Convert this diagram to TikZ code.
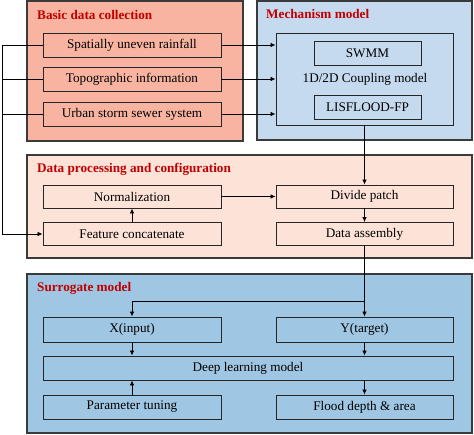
\documentclass[tikz,border=0pt]{standalone}
\usepackage{fontspec}
\setmainfont{Liberation Serif}
\usetikzlibrary{arrows.meta}
\definecolor{salmon}{HTML}{F8B4A0}
\definecolor{mechblue}{HTML}{C6DAEF}
\definecolor{procpink}{HTML}{FCE2D7}
\definecolor{surrblue}{HTML}{9FC6E2}
\definecolor{titlered}{HTML}{C00000}
\definecolor{panelline}{HTML}{3A3A3A}
\begin{document}
\begin{tikzpicture}[x=1pt,y=-1pt,
  panel/.style={draw=panelline,line width=1.8pt},
  ptitle/.style={anchor=west,inner sep=0pt,text=titlered,font=\fontsize{13.2}{15}\selectfont\bfseries},
  box/.style={draw=black!85,line width=0.9pt,inner sep=0pt,minimum height=24pt,font=\fontsize{13.2}{15}\selectfont},
  lbox/.style={box,minimum width=178pt},
  rbox/.style={box,minimum width=177pt},
  sbox/.style={box,minimum width=107pt},
  plain/.style={inner sep=0pt,font=\fontsize{13.2}{15}\selectfont},
  conn/.style={draw=black,line width=0.8pt},
  arr/.style={conn,-{Latex[length=5pt,width=4.5pt]}}]
\useasboundingbox (0,0) rectangle (474,435);
% panels
\filldraw[panel,fill=salmon] (27,1) rectangle (243,141);
\filldraw[panel,fill=mechblue] (257,1) rectangle (472,140);
\filldraw[panel,fill=procpink] (27,155) rectangle (472,258);
\filldraw[panel,fill=surrblue] (27,274) rectangle (472,433);
\node[ptitle] (t1) at (37,15) {Basic data collection};
\node[ptitle] (t2) at (266,14) {Mechanism model};
\node[ptitle] (t3) at (37,169) {Data processing and configuration};
\node[ptitle] (t4) at (37,288) {Surrogate model};
% basic data
\node[lbox] (sp) at (132,45) {Spatially uneven rainfall};
\node[lbox] (topo) at (132,79) {Topographic information};
\node[lbox] (urban) at (132,114) {Urban storm sewer system};
% mechanism
\node[rbox,minimum height=92pt] (mechin) at (364.5,79) {};
\node[sbox] (swmm) at (367.5,53) {SWMM};
\node[plain] (coup) at (365,79) {1D/2D Coupling model};
\node[sbox] (lis) at (367.5,107) {LISFLOOD-FP};
% data processing
\node[lbox,minimum height=23pt] (norm) at (132,196.5) {Normalization};
\node[lbox,minimum height=23pt] (feat) at (132,234) {Feature concatenate};
\node[rbox,minimum height=23pt] (div) at (364.5,196.5) {Divide patch};
\node[rbox,minimum height=23pt] (asm) at (364.5,234) {Data assembly};
% surrogate
\node[lbox,minimum height=25pt] (X) at (132,329.5) {X(input)};
\node[rbox,minimum height=25pt] (Y) at (364.5,329.5) {Y(target)};
\node[box,minimum width=410pt] (deep) at (248,368) {Deep learning model};
\node[lbox] (param) at (132,407) {Parameter tuning};
\node[rbox] (flood) at (364.5,407) {Flood depth \& area};
% connectors
\draw[arr] (sp.west) -- ++(-40,0) |- (feat.west);
\draw[conn] (topo.west) -- ++(-40,0);
\draw[conn] (urban.west) -- ++(-40,0);
\draw[arr] (sp.east) -- (sp.east -| mechin.west);
\draw[arr] (topo.east) -- (topo.east -| mechin.west);
\draw[arr] (urban.east) -- (urban.east -| mechin.west);
\draw[arr] (mechin.south) -- (div.north);
\draw[arr] (feat.north) -- (norm.south);
\draw[arr] (norm.east) -- (div.west);
\draw[arr] (div.south) -- (asm.north);
\draw[arr] (asm.south) -- (Y.north);
\coordinate (br) at (364.5,301);
\draw[arr] (br) -| (X.north);
\draw[arr] (X.south) -- (X.south |- deep.north);
\draw[arr] (Y.south) -- (Y.south |- deep.north);
\draw[arr] (param.north) -- (param.north |- deep.south);
\draw[arr] (flood.north |- deep.south) -- (flood.north);
\end{tikzpicture}
\end{document}
